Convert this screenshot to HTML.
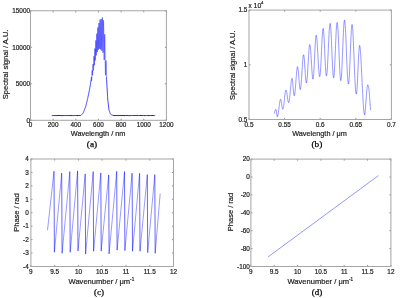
<!DOCTYPE html>
<html><head><meta charset="utf-8"><title>Figure</title>
<style>html,body{margin:0;padding:0;background:#fff;width:409px;height:298px;overflow:hidden}svg{display:block}</style>
</head><body>
<svg width="409" height="298" viewBox="0 0 409 298" style="filter:blur(0.3px)">
<style>
.ax{fill:none;stroke:#a6a6a6;stroke-width:1}
.tk{stroke:#888;stroke-width:0.9}
.t{font-family:"Liberation Sans",Arial,sans-serif;font-size:6.4px;fill:#222;stroke:#222;stroke-width:0.2}
.l{font-family:"Liberation Sans",Arial,sans-serif;font-size:7.3px;fill:#222;stroke:#222;stroke-width:0.2}
.yl{font-size:7.5px}
.xl2{font-size:7.55px}
.s{font-family:"Liberation Serif","Times New Roman",serif;font-size:9.2px;fill:#000;stroke:#000;stroke-width:0.25}
.c{fill:none;stroke:#0000ff;stroke-width:0.5;stroke-linejoin:round}
.sup{font-size:4.6px}
.ca{stroke-width:0.75}
.cm{stroke-width:0.5}
.cb{stroke-width:0.42}
.cr{stroke-width:0.4}
.cd{stroke-width:0.6}
.cdd{stroke-width:0.42}
</style>
<rect width="409" height="298" fill="#fff"/>
<polyline class="c ca" points="52.02,115.30 52.13,115.55 52.24,115.61 52.36,115.97 52.47,115.68 52.59,115.69 52.70,115.64 52.81,115.74 52.93,115.63 53.04,115.71 53.15,115.86 53.27,115.46 53.38,115.46 53.50,115.31 53.61,115.61 53.72,115.69 53.84,115.72 53.95,115.90 54.06,115.44 54.18,115.82 54.29,115.84 54.41,115.66 54.52,115.35 54.63,115.58 54.75,115.81 54.86,115.75 54.97,115.50 55.09,115.65 55.20,115.76 55.32,115.66 55.43,115.48 55.54,115.26 55.66,115.84 55.77,115.73 55.88,115.76 56.00,116.06 56.11,115.78 56.23,115.80 56.34,115.41 56.45,115.64 56.57,115.91 56.68,115.49 56.79,115.68 56.91,115.93 57.02,115.72 57.14,115.72 57.25,115.77 57.36,115.61 57.48,116.02 57.59,115.66 57.70,115.42 57.82,115.45 57.93,115.41 58.05,115.40 58.16,115.34 58.27,115.81 58.39,115.45 58.50,115.95 58.61,115.72 58.73,115.96 58.84,115.42 58.96,115.36 59.07,115.64 59.18,115.28 59.30,115.73 59.41,115.58 59.52,115.58 59.64,115.80 59.75,115.52 59.87,115.25 59.98,115.79 60.09,115.44 60.21,115.63 60.32,115.28 60.43,115.51 60.55,115.48 60.66,115.48 60.78,115.56 60.89,115.86 61.00,115.35 61.12,115.85 61.23,115.56 61.34,115.49 61.46,115.75 61.57,115.57 61.69,115.39 61.80,115.60 61.91,115.76 62.03,116.13 62.14,115.77 62.25,115.71 62.37,115.69 62.48,115.77 62.60,115.53 62.71,115.70 62.82,115.62 62.94,115.47 63.05,115.75 63.16,115.65 63.28,115.20 63.39,115.43 63.51,115.83 63.62,115.61 63.73,115.49 63.85,115.37 63.96,115.57 64.07,115.69 64.19,115.73 64.30,115.47 64.42,115.53 64.53,115.69 64.64,115.62 64.76,115.67 64.87,115.46 64.98,115.72 65.10,115.50 65.21,115.43 65.33,115.50 65.44,115.74 65.55,115.34 65.67,115.71 65.78,115.51 65.89,115.72 66.01,115.91 66.12,115.55 66.24,115.53 66.35,115.60 66.46,115.53 66.58,115.70 66.69,115.72 66.80,115.62 66.92,115.24 67.03,115.43 67.15,115.68 67.26,115.48 67.37,115.67 67.49,115.67 67.60,115.43 67.71,115.68 67.83,115.89 67.94,115.75 68.06,115.56 68.17,115.56 68.28,115.35 68.40,115.71 68.51,115.45 68.62,115.50 68.74,115.61 68.85,115.43 68.97,115.49 69.08,115.74 69.19,115.38 69.31,115.80 69.42,115.57 69.53,115.58 69.65,115.50 69.76,115.71 69.88,115.58 69.99,115.60 70.10,115.39 70.22,115.72 70.33,115.56 70.44,115.62 70.56,115.81 70.67,115.08 70.79,115.59 70.90,115.84 71.01,115.32 71.13,115.77 71.24,115.50 71.35,115.41 71.47,115.69 71.58,115.65 71.70,115.67 71.81,115.59 71.92,115.87 72.04,115.80 72.15,115.60 72.26,115.38 72.38,115.45 72.49,115.25 72.61,115.44 72.72,115.66 72.83,115.59 72.95,115.94 73.06,115.74 73.17,115.75 73.29,115.52 73.40,115.45 73.52,115.67 73.63,115.67 73.74,115.85 73.86,115.59 73.97,115.52 74.08,115.48 74.20,115.71 74.31,115.20 74.43,115.34 74.54,115.58 74.65,115.66 74.77,115.62 74.88,115.53 74.99,115.56 75.11,115.47 75.22,115.42 75.33,115.31 75.45,115.35 75.56,115.58 75.68,115.49 75.79,115.63 75.90,115.67 76.02,115.21 76.13,115.64 76.24,115.19 76.36,115.62 76.47,115.51 76.59,115.36 76.70,115.55 76.81,115.48 76.93,115.60 77.04,115.64 77.15,115.59 77.27,115.67 77.38,115.26 77.50,115.59 77.61,115.24 77.72,116.04 77.84,115.55 77.95,115.45 78.06,115.61 78.18,115.34 78.29,115.42 78.41,115.58 78.52,115.44 78.63,115.00 78.75,115.45 78.86,115.44 78.97,115.56 79.09,115.45 79.20,115.70 79.32,115.49 79.43,115.00 79.54,115.24 79.66,115.31 79.77,115.22 79.88,115.07 80.00,115.29 80.11,115.02 80.23,115.19 80.34,115.38 80.45,115.37 80.57,115.36 80.68,115.35 80.79,115.34 80.91,115.32 81.02,115.21 81.14,115.10 81.25,115.00 81.36,114.89 81.48,114.78 81.59,114.67 81.70,114.56 81.82,114.45 81.93,114.34 82.05,114.23 82.16,114.12 82.27,114.02 82.39,113.91 82.50,113.80 82.61,113.69 82.73,113.58 82.84,113.47 82.96,113.36 83.07,113.15 83.18,112.87 83.30,112.59 83.41,112.31 83.52,112.03 83.64,111.75 83.75,111.47 83.87,111.19 83.98,110.91 84.09,110.63 84.21,110.35 84.32,110.07 84.43,109.79 84.55,109.51 84.66,109.23 84.78,108.95 84.89,108.67 85.00,108.39 85.12,108.11 85.23,107.83 85.34,107.55 85.46,107.27 85.57,106.99 85.69,106.57 85.80,106.11 85.91,105.66 86.03,105.21 86.14,104.75 86.25,104.30 86.37,103.84 86.48,103.39 86.60,102.93 86.71,102.48 86.82,102.02 86.94,101.57 87.05,101.11 87.16,100.66 87.28,100.20 87.39,99.75 87.51,99.29 87.62,98.84 87.73,98.34 87.85,97.78 87.96,97.21 88.07,96.64 88.19,96.08 88.30,95.51 88.42,94.95 88.53,94.38 88.64,93.81 88.76,93.25 88.87,92.68 88.98,92.12 89.10,91.55 89.21,90.98 89.33,90.42 89.44,89.85 89.55,89.29 89.67,88.72 89.78,88.07 89.89,87.39 90.01,86.71 90.12,86.02 90.24,85.34 90.35,84.66 90.46,83.98 90.58,83.30 90.69,82.62 90.80,81.94 90.92,81.26 91.03,80.58 91.15,79.89 91.15,79.87"/>
<polyline class="c ca" points="106.47,77.52 106.47,77.52 106.58,79.43 106.69,81.33 106.81,83.24 106.92,85.15 107.03,87.06 107.15,88.97 107.26,90.87 107.37,92.78 107.49,94.69 107.60,96.60 107.71,98.51 107.83,100.23 107.94,101.19 108.05,102.15 108.17,103.11 108.28,104.07 108.39,105.03 108.51,105.99 108.62,106.95 108.73,107.91 108.85,108.87 108.96,109.83 109.07,110.27 109.19,110.58 109.30,110.89 109.41,111.20 109.53,111.51 109.64,111.81 109.75,112.12 109.87,112.43 109.98,112.74 110.09,113.05 110.21,113.36 110.32,113.67 110.43,113.82 110.55,113.94 110.66,114.05 110.77,114.17 110.89,114.29 111.00,114.41 111.11,114.52 111.23,114.64 111.34,114.76 111.45,114.87 111.57,114.99 111.68,115.03 111.79,115.05 111.91,115.08 112.02,115.10 112.13,115.12 112.25,115.14 112.36,115.17 112.47,115.19 112.59,115.21 112.70,115.23 112.81,115.26 112.93,115.28 113.04,115.30 113.15,115.32 113.26,115.32 113.38,115.05 113.49,115.82 113.60,115.52 113.72,115.39 113.83,115.63 113.94,115.51 114.06,115.62 114.17,115.65 114.28,115.05 114.40,115.44 114.51,115.56 114.62,115.31 114.74,115.60 114.85,115.39 114.96,115.49 115.08,115.26 115.19,115.81 115.30,115.41 115.42,115.53 115.53,115.77 115.64,115.36 115.76,115.71 115.87,115.26 115.98,115.46 116.10,115.43 116.21,115.54 116.32,115.39 116.44,115.90 116.55,115.54 116.66,115.67 116.78,115.51 116.89,115.57 117.00,115.45 117.12,115.71 117.23,115.22 117.34,115.14 117.46,115.60 117.57,115.56 117.68,115.51 117.80,115.33 117.91,115.21 118.02,115.78 118.14,115.67 118.25,115.75 118.36,115.76 118.48,115.86 118.59,115.49 118.70,115.77 118.82,115.29 118.93,115.40 119.04,115.75 119.16,115.75 119.27,115.67 119.38,115.31 119.50,115.72 119.61,115.84 119.72,115.57 119.84,115.49 119.95,115.68 120.06,115.27 120.18,115.52 120.29,115.48 120.40,115.72 120.52,115.57 120.63,115.59 120.74,115.98 120.86,115.51 120.97,115.89 121.08,115.57 121.20,115.83 121.31,115.20 121.42,115.51 121.54,115.41 121.65,115.40 121.76,115.81 121.88,115.98 121.99,115.63 122.10,115.40 122.22,115.55 122.33,115.42 122.44,115.40 122.56,115.84 122.67,115.52 122.78,115.21 122.90,115.67 123.01,115.94 123.12,115.61 123.24,115.65 123.35,115.49 123.46,115.73 123.58,115.55 123.69,115.97 123.80,115.41 123.92,115.28 124.03,115.33 124.14,115.85 124.26,115.51 124.37,116.12 124.48,115.52 124.60,115.58 124.71,115.75 124.82,115.51 124.94,115.55 125.05,115.40 125.16,115.55 125.28,115.53 125.39,115.93 125.50,115.78 125.62,115.66 125.73,115.52 125.84,115.57 125.96,115.30 126.07,115.73 126.18,115.62 126.30,115.53 126.41,115.62 126.52,115.48 126.64,115.68 126.75,115.32 126.86,115.63 126.98,115.37 127.09,115.58 127.20,115.30 127.31,115.83 127.43,115.48 127.54,115.66 127.65,115.53 127.77,115.36 127.88,115.79 127.99,115.82 128.11,115.76 128.22,115.53 128.33,115.92 128.45,115.56 128.56,115.81 128.67,115.79 128.79,115.65 128.90,115.51 129.01,115.69 129.13,115.67 129.24,115.59 129.35,115.63 129.47,116.07 129.58,115.66 129.69,115.56 129.81,115.38 129.92,115.21 130.03,115.46 130.15,115.57 130.26,115.76 130.37,115.57 130.49,115.44 130.60,115.35 130.71,115.74 130.83,115.54 130.94,115.43 131.05,115.24 131.17,115.54 131.28,115.68 131.39,115.71 131.51,115.65 131.62,115.70 131.73,115.43 131.85,115.39 131.96,115.45 132.07,115.37 132.19,115.67 132.30,115.52 132.41,115.66 132.53,115.58 132.64,115.36 132.75,115.59 132.87,115.93 132.98,115.63 133.09,115.72 133.21,115.86 133.32,115.73 133.43,115.41 133.55,115.28 133.66,115.68 133.77,115.40 133.89,115.37 134.00,115.80 134.11,115.60 134.23,115.60 134.34,115.56 134.45,115.88 134.57,115.65 134.68,115.40 134.79,115.36 134.91,115.26 135.02,115.65 135.13,115.25 135.25,115.47 135.36,115.84 135.47,115.45 135.59,115.66 135.70,115.50 135.81,115.61 135.93,115.37 136.04,115.54 136.15,115.64 136.27,115.42 136.38,115.55 136.49,115.67 136.61,115.36 136.72,115.67 136.83,115.71 136.95,115.69 137.06,115.86 137.17,115.69 137.29,115.25 137.40,115.76 137.51,115.59 137.63,115.80 137.74,115.71 137.85,115.32 137.97,115.43 138.08,115.71 138.19,115.59 138.31,115.75 138.42,115.74 138.53,115.76 138.65,115.76 138.76,115.54 138.87,115.49 138.99,115.51 139.10,115.63 139.21,115.85 139.33,115.61 139.44,115.77 139.55,115.44 139.67,115.50 139.78,115.46 139.89,115.66 140.01,115.93 140.12,115.42 140.23,115.38 140.35,115.87 140.46,115.57 140.57,115.38 140.69,115.80 140.80,115.28 140.91,115.66 141.03,115.80 141.14,115.35 141.25,115.55 141.36,115.72 141.48,115.44 141.59,115.96 141.70,115.27 141.82,115.75 141.93,115.55 142.04,115.68 142.16,115.52 142.27,115.44 142.38,115.75 142.50,115.46 142.61,115.66 142.72,115.73 142.84,115.64 142.95,115.79 143.06,115.75 143.18,115.43 143.29,115.63 143.40,115.40 143.52,115.53 143.63,115.79 143.74,115.95 143.86,115.73 143.97,115.56 144.08,115.60 144.20,115.76 144.31,115.42 144.42,115.93 144.54,115.84 144.65,115.58 144.76,115.21 144.88,115.53 144.99,115.79 145.10,115.50 145.22,115.48 145.33,115.44 145.44,115.68 145.56,115.75 145.67,115.59 145.78,115.53 145.90,115.32 146.01,115.23 146.12,115.74 146.24,115.71 146.35,115.62 146.46,115.66 146.58,115.52 146.69,115.52 146.80,115.56 146.92,115.37 147.03,115.64 147.14,115.80 147.26,115.90 147.37,115.80 147.48,115.80 147.60,115.96 147.71,115.49 147.82,115.58 147.94,115.69 148.05,115.78 148.16,115.90 148.28,115.78 148.39,115.28 148.50,116.02 148.62,115.59 148.73,115.48 148.84,115.59 148.96,115.67 149.07,115.47 149.18,115.82 149.30,115.51 149.41,115.35 149.52,115.81 149.64,115.77 149.75,115.59 149.86,115.44 149.98,115.37 150.09,115.49 150.20,115.74 150.32,115.82 150.43,115.57 150.54,115.55 150.66,115.82 150.77,115.61 150.88,115.56 151.00,115.43 151.11,115.80 151.22,115.52 151.34,115.83 151.45,115.70 151.56,115.63 151.68,115.34 151.79,115.01 151.90,115.57 152.02,115.53 152.13,115.44 152.24,115.87 152.36,115.48 152.47,115.85 152.58,115.32 152.70,115.36 152.81,115.53 152.92,115.77 153.04,115.32 153.15,115.58 153.26,115.60 153.38,115.52 153.49,115.94 153.60,115.54 153.72,115.44 153.83,115.56 153.94,115.60 154.06,115.80 154.17,115.51 154.28,115.59 154.40,115.62 154.51,115.73 154.62,115.47 154.74,115.40 154.85,115.55 154.96,115.46 155.07,115.38"/>
<polyline class="c cm" points="91.15,79.87 91.16,79.64 91.17,79.41 91.18,79.19 91.19,78.98 91.20,78.77 91.21,78.57 91.23,78.39 91.24,78.21 91.25,78.04 91.26,77.89 91.27,77.74 91.28,77.62 91.29,77.50 91.30,77.40 91.31,77.32 91.32,77.24 91.34,77.19 91.35,77.15 91.36,77.12 91.37,77.11 91.38,77.05 91.39,77.00 91.40,76.98 91.41,77.01 91.42,77.08 91.43,77.18 91.44,77.32 91.46,77.49 91.47,77.68 91.48,77.90 91.49,78.15 91.50,78.40 91.51,78.67 91.52,78.94 91.53,79.20 91.54,79.46 91.55,79.70 91.57,79.93 91.58,80.13 91.59,80.30 91.60,80.46 91.61,80.59 91.62,80.68 91.63,80.72 91.64,80.72 91.65,80.64 91.66,80.55 91.67,80.44 91.69,80.31 91.70,80.17 91.71,80.02 91.72,79.84 91.73,79.65 91.74,79.45 91.75,79.23 91.76,79.00 91.77,78.76 91.78,78.50 91.80,78.24 91.81,77.96 91.82,77.67 91.83,77.37 91.84,77.07 91.85,76.76 91.86,76.44 91.87,76.12 91.88,75.79 91.89,75.47 91.90,75.14 91.92,74.82 91.93,74.49 91.94,74.17 91.95,73.86 91.96,73.54 91.97,73.24 91.98,72.95 91.99,72.66 92.00,72.39 92.01,72.12 92.03,71.87 92.04,71.64 92.05,71.41 92.06,71.21 92.07,71.02 92.08,70.84 92.09,70.69 92.10,70.55 92.11,70.43 92.12,70.34 92.13,70.28 92.15,70.26 92.16,70.26 92.17,70.28 92.18,70.33 92.19,70.41 92.20,70.51 92.21,70.64 92.22,70.78 92.23,70.95 92.24,71.13 92.26,71.33 92.27,71.54 92.28,71.77 92.29,72.00 92.30,72.24 92.31,72.49 92.32,72.74 92.33,72.99 92.34,73.24 92.35,73.49 92.36,73.73 92.38,73.96 92.39,74.17 92.40,74.38 92.41,74.57 92.42,74.74 92.43,74.89 92.44,75.02 92.45,75.12 92.46,75.20 92.47,75.26 92.48,75.29 92.50,75.29 92.51,75.27 92.52,75.21 92.53,75.15 92.54,75.05 92.55,74.94 92.56,74.81 92.57,74.65 92.58,74.48 92.59,74.28 92.61,74.07 92.62,73.83 92.63,73.58 92.64,73.31 92.65,73.03 92.66,72.73 92.67,72.41 92.68,72.09 92.69,71.75 92.70,71.40 92.71,71.04 92.73,70.68 92.74,70.32 92.75,69.95 92.76,69.57 92.77,69.20 92.78,68.83 92.79,68.47 92.80,68.10 92.81,67.75 92.82,67.40 92.84,67.07 92.85,66.74 92.86,66.43 92.87,66.14 92.88,65.86 92.89,65.59 92.90,65.35 92.91,65.12 92.92,64.92 92.93,64.74 92.94,64.57 92.96,64.44 92.97,64.32 92.98,64.23 92.99,64.15 93.00,64.10 93.01,64.07 93.02,64.06 93.03,64.08 93.04,64.12 93.05,64.19 93.07,64.27 93.08,64.38 93.09,64.51 93.10,64.66 93.11,64.83 93.12,65.01 93.13,65.21 93.14,65.43 93.15,65.66 93.16,65.90 93.17,66.15 93.19,66.41 93.20,66.67 93.21,66.94 93.22,67.21 93.23,67.48 93.24,67.75 93.25,68.02 93.26,68.28 93.27,68.53 93.28,68.78 93.30,69.01 93.31,69.23 93.32,69.44 93.33,69.63 93.34,69.80 93.35,69.96 93.36,70.09 93.37,70.20 93.38,70.29 93.39,70.35 93.40,70.39 93.42,70.41 93.43,70.39 93.44,70.35 93.45,70.29 93.46,70.19 93.47,70.08 93.48,69.95 93.49,69.79 93.50,69.61 93.51,69.40 93.53,69.18 93.54,68.94 93.55,68.67 93.56,68.39 93.57,68.09 93.58,67.77 93.59,67.43 93.60,67.08 93.61,66.71 93.62,66.33 93.63,65.95 93.65,65.55 93.66,65.14 93.67,64.72 93.68,64.30 93.69,63.87 93.70,63.45 93.71,63.02 93.72,62.59 93.73,62.16 93.74,61.74 93.76,61.33 93.77,60.92 93.78,60.52 93.79,60.13 93.80,59.75 93.81,59.38 93.82,59.03 93.83,58.70 93.84,58.38 93.85,58.08 93.86,57.81 93.88,57.55 93.89,57.31 93.90,57.10 93.91,56.91 93.92,56.74 93.93,56.60 93.94,56.48 93.95,56.38 93.96,56.32 93.97,56.31 93.98,56.34 94.00,56.41 94.01,56.53 94.02,56.68 94.03,56.88 94.04,57.12 94.05,57.39 94.06,57.70 94.07,58.03 94.08,58.40 94.09,58.78 94.11,59.19 94.12,59.61 94.13,60.05 94.14,60.49 94.15,60.93 94.16,61.38 94.17,61.82 94.18,62.25 94.19,62.67 94.20,63.07 94.21,63.45 94.23,63.80 94.24,64.12 94.25,64.41 94.26,64.67 94.27,64.88 94.28,65.06 94.29,65.19 94.30,65.27 94.31,65.31 94.32,65.30 94.34,65.24 94.35,65.16 94.36,65.04 94.37,64.90 94.38,64.72 94.39,64.52 94.40,64.28 94.41,64.02 94.42,63.73 94.43,63.41 94.44,63.07 94.46,62.70 94.47,62.30 94.48,61.89 94.49,61.45 94.50,61.00 94.51,60.53 94.52,60.04 94.53,59.54 94.54,59.02 94.55,58.50 94.57,57.97 94.58,57.44 94.59,56.90 94.60,56.36 94.61,55.82 94.62,55.29 94.63,54.76 94.64,54.24 94.65,53.73 94.66,53.24 94.67,52.75 94.69,52.29 94.70,51.84 94.71,51.42 94.72,51.02 94.73,50.64 94.74,50.29 94.75,49.96 94.76,49.67 94.77,49.40 94.78,49.17 94.80,48.97 94.81,48.80 94.82,48.66 94.83,48.57 94.84,48.51 94.85,48.50 94.86,48.52 94.87,48.59 94.88,48.69 94.89,48.83 94.90,49.00 94.92,49.21 94.93,49.46 94.94,49.74 94.95,50.05 94.96,50.38 94.97,50.75 94.98,51.13 94.99,51.54 95.00,51.97 95.01,52.41 95.03,52.87 95.04,53.34 95.05,53.82 95.06,54.30 95.07,54.78 95.08,55.26 95.09,55.74 95.10,56.20 95.11,56.66 95.12,57.11 95.13,57.53 95.15,57.94 95.16,58.33 95.17,58.69 95.18,59.02 95.19,59.32 95.20,59.59 95.21,59.82 95.22,60.02 95.23,60.19 95.24,60.31 95.25,60.39 95.27,60.43 95.28,60.43 95.29,60.38 95.30,60.29 95.31,60.17 95.32,60.02 95.33,59.83 95.34,59.60 95.35,59.34 95.36,59.04 95.38,58.71 95.39,58.35 95.40,57.96 95.41,57.54 95.42,57.09 95.43,56.62 95.44,56.12 95.45,55.60 95.46,55.05 95.47,54.49 95.48,53.91 95.50,53.32 95.51,52.72 95.52,52.10 95.53,51.48 95.54,50.86 95.55,50.23 95.56,49.60 95.57,48.98 95.58,48.36 95.59,47.75 95.61,47.15 95.62,46.56 95.63,45.99 95.64,45.43 95.65,44.90 95.66,44.38 95.67,43.90 95.68,43.43 95.69,43.00 95.70,42.60 95.71,42.22 95.73,41.89 95.74,41.58 95.75,41.31 95.76,41.08 95.77,40.88 95.78,40.73 95.79,40.61 95.80,40.55 95.81,40.53 95.82,40.57 95.84,40.65 95.85,40.77 95.86,40.95 95.87,41.16 95.88,41.42 95.89,41.73 95.90,42.07 95.91,42.44 95.92,42.85 95.93,43.30 95.94,43.77 95.96,44.27 95.97,44.79 95.98,45.34 95.99,45.90 96.00,46.47 96.01,47.05 96.02,47.64 96.03,48.23 96.04,48.82 96.05,49.41 96.07,49.99 96.08,50.55 96.09,51.10 96.10,51.63 96.11,52.14 96.12,52.62 96.13,53.08 96.14,53.50 96.15,53.89 96.16,54.24 96.17,54.55 96.19,54.82 96.20,55.04 96.21,55.23 96.22,55.36 96.23,55.45 96.24,55.48 96.25,55.47 96.26,55.42 96.27,55.34 96.28,55.22 96.30,55.06 96.31,54.86 96.32,54.63 96.33,54.36 96.34,54.05 96.35,53.70 96.36,53.32 96.37,52.91 96.38,52.46 96.39,51.98 96.40,51.48 96.42,50.95 96.43,50.39 96.44,49.81 96.45,49.21 96.46,48.59 96.47,47.95 96.48,47.31 96.49,46.64 96.50,45.98 96.51,45.30 96.53,44.62 96.54,43.94 96.55,43.26 96.56,42.59 96.57,41.93 96.58,41.27 96.59,40.63 96.60,40.00 96.61,39.39 96.62,38.80 96.63,38.23 96.65,37.69 96.66,37.18 96.67,36.69 96.68,36.24 96.69,35.81 96.70,35.43 96.71,35.08 96.72,34.76 96.73,34.49 96.74,34.26 96.75,34.06 96.77,33.91 96.78,33.80 96.79,33.74 96.80,33.73 96.81,33.76 96.82,33.83 96.83,33.94 96.84,34.10 96.85,34.29 96.86,34.53 96.88,34.80 96.89,35.12 96.90,35.46 96.91,35.85 96.92,36.26 96.93,36.71 96.94,37.19 96.95,37.69 96.96,38.22 96.97,38.77 96.98,39.34 97.00,39.92 97.01,40.52 97.02,41.14 97.03,41.76 97.04,42.38 97.05,43.01 97.06,43.64 97.07,44.27 97.08,44.89 97.09,45.50 97.11,46.10 97.12,46.68 97.13,47.25 97.14,47.80 97.15,48.32 97.16,48.82 97.17,49.30 97.18,49.74 97.19,50.15 97.20,50.52 97.21,50.86 97.23,51.16 97.24,51.43 97.25,51.65 97.26,51.82 97.27,51.96 97.28,52.05 97.29,52.09 97.30,52.09 97.31,52.05 97.32,51.96 97.34,51.81 97.35,51.61 97.36,51.36 97.37,51.06 97.38,50.71 97.39,50.31 97.40,49.87 97.41,49.38 97.42,48.84 97.43,48.27 97.44,47.65 97.46,47.00 97.47,46.32 97.48,45.60 97.49,44.86 97.50,44.10 97.51,43.31 97.52,42.51 97.53,41.70 97.54,40.87 97.55,40.04 97.57,39.21 97.58,38.38 97.59,37.56 97.60,36.74 97.61,35.94 97.62,35.16 97.63,34.40 97.64,33.66 97.65,32.95 97.66,32.27 97.67,31.62 97.69,31.01 97.70,30.45 97.71,29.92 97.72,29.44 97.73,29.01 97.74,28.63 97.75,28.30 97.76,28.02 97.77,27.80 97.78,27.64 97.80,27.52 97.81,27.49 97.82,27.49 97.83,27.55 97.84,27.64 97.85,27.77 97.86,27.95 97.87,28.17 97.88,28.42 97.89,28.72 97.90,29.05 97.92,29.42 97.93,29.82 97.94,30.26 97.95,30.72 97.96,31.22 97.97,31.75 97.98,32.30 97.99,32.88 98.00,33.48 98.01,34.10 98.03,34.73 98.04,35.38 98.05,36.05 98.06,36.72 98.07,37.40 98.08,38.09 98.09,38.78 98.10,39.46 98.11,40.15 98.12,40.83 98.13,41.50 98.15,42.16 98.16,42.81 98.17,43.45 98.18,44.06 98.19,44.65 98.20,45.23 98.21,45.77 98.22,46.29 98.23,46.78 98.24,47.24 98.25,47.67 98.27,48.06 98.28,48.42 98.29,48.74 98.30,49.02 98.31,49.26 98.32,49.45 98.33,49.61 98.34,49.72 98.35,49.79 98.36,49.82 98.38,49.80 98.39,49.74 98.40,49.63 98.41,49.47 98.42,49.26 98.43,49.01 98.44,48.70 98.45,48.35 98.46,47.95 98.47,47.51 98.48,47.03 98.50,46.50 98.51,45.94 98.52,45.34 98.53,44.70 98.54,44.03 98.55,43.33 98.56,42.61 98.57,41.86 98.58,41.09 98.59,40.30 98.61,39.49 98.62,38.68 98.63,37.85 98.64,37.02 98.65,36.18 98.66,35.35 98.67,34.51 98.68,33.69 98.69,32.88 98.70,32.07 98.71,31.29 98.73,30.53 98.74,29.78 98.75,29.07 98.76,28.38 98.77,27.73 98.78,27.10 98.79,26.52 98.80,25.97 98.81,25.46 98.82,25.00 98.84,24.58 98.85,24.21 98.86,23.89 98.87,23.61 98.88,23.39 98.89,23.22 98.90,23.10 98.91,23.03 98.92,23.03 98.93,23.08 98.94,23.19 98.96,23.36 98.97,23.58 98.98,23.85 98.99,24.18 99.00,24.56 99.01,24.99 99.02,25.46 99.03,25.98 99.04,26.55 99.05,27.15 99.07,27.80 99.08,28.47 99.09,29.19 99.10,29.93 99.11,30.70 99.12,31.49 99.13,32.30 99.14,33.12 99.15,33.96 99.16,34.81 99.17,35.66 99.19,36.52 99.20,37.37 99.21,38.21 99.22,39.04 99.23,39.87 99.24,40.67 99.25,41.45 99.26,42.21 99.27,42.94 99.28,43.64 99.30,44.30 99.31,44.93 99.32,45.51 99.33,46.06 99.34,46.56 99.35,47.01 99.36,47.41 99.37,47.76 99.38,48.05 99.39,48.30 99.40,48.48 99.42,48.61 99.43,48.68 99.44,48.69 99.45,48.67 99.46,48.60 99.47,48.48 99.48,48.32 99.49,48.11 99.50,47.85 99.51,47.55 99.53,47.21 99.54,46.82 99.55,46.39 99.56,45.92 99.57,45.41 99.58,44.87 99.59,44.29 99.60,43.67 99.61,43.02 99.62,42.35 99.63,41.64 99.65,40.91 99.66,40.16 99.67,39.39 99.68,38.60 99.69,37.79 99.70,36.97 99.71,36.14 99.72,35.31 99.73,34.47 99.74,33.63 99.75,32.79 99.77,31.95 99.78,31.12 99.79,30.30 99.80,29.49 99.81,28.70 99.82,27.93 99.83,27.17 99.84,26.44 99.85,25.74 99.86,25.06 99.88,24.42 99.89,23.81 99.90,23.23 99.91,22.69 99.92,22.19 99.93,21.72 99.94,21.31 99.95,20.93 99.96,20.60 99.97,20.32 99.98,20.08 100.00,19.89 100.01,19.75 100.02,19.66 100.03,19.63 100.04,19.67 100.05,19.77 100.06,19.92 100.07,20.13 100.08,20.40 100.09,20.71 100.11,21.08 100.12,21.50 100.13,21.97 100.14,22.49 100.15,23.05 100.16,23.65 100.17,24.30 100.18,24.99 100.19,25.71 100.20,26.46 100.21,27.25 100.23,28.06 100.24,28.90 100.25,29.76 100.26,30.64 100.27,31.53 100.28,32.44 100.29,33.35 100.30,34.27 100.31,35.19 100.32,36.11 100.34,37.02 100.35,37.92 100.36,38.81 100.37,39.68 100.38,40.53 100.39,41.36 100.40,42.17 100.41,42.94 100.42,43.68 100.43,44.39 100.44,45.06 100.46,45.69 100.47,46.28 100.48,46.82 100.49,47.32 100.50,47.77 100.51,48.16 100.52,48.51 100.53,48.80 100.54,49.03 100.55,49.21 100.57,49.33 100.58,49.40 100.59,49.41 100.60,49.36 100.61,49.26 100.62,49.10 100.63,48.88 100.64,48.61 100.65,48.29 100.66,47.91 100.67,47.47 100.69,46.99 100.70,46.46 100.71,45.88 100.72,45.26 100.73,44.60 100.74,43.89 100.75,43.15 100.76,42.37 100.77,41.57 100.78,40.73 100.80,39.87 100.81,38.99 100.82,38.09 100.83,37.17 100.84,36.25 100.85,35.31 100.86,34.37 100.87,33.43 100.88,32.49 100.89,31.56 100.90,30.64 100.92,29.73 100.93,28.84 100.94,27.97 100.95,27.12 100.96,26.30 100.97,25.51 100.98,24.76 100.99,24.04 101.00,23.36 101.01,22.72 101.03,22.12 101.04,21.58 101.05,21.08 101.06,20.63 101.07,20.23 101.08,19.89 101.09,19.60 101.10,19.37 101.11,19.20 101.12,19.09 101.13,19.03 101.15,19.03 101.16,19.08 101.17,19.18 101.18,19.33 101.19,19.53 101.20,19.79 101.21,20.10 101.22,20.45 101.23,20.86 101.24,21.31 101.25,21.81 101.27,22.36 101.28,22.94 101.29,23.57 101.30,24.23 101.31,24.94 101.32,25.67 101.33,26.44 101.34,27.23 101.35,28.06 101.36,28.90 101.38,29.77 101.39,30.65 101.40,31.55 101.41,32.46 101.42,33.38 101.43,34.31 101.44,35.23 101.45,36.16 101.46,37.08 101.47,37.99 101.48,38.90 101.50,39.79 101.51,40.66 101.52,41.51 101.53,42.34 101.54,43.15 101.55,43.93 101.56,44.67 101.57,45.39 101.58,46.06 101.59,46.70 101.61,47.30 101.62,47.85 101.63,48.36 101.64,48.82 101.65,49.24 101.66,49.60 101.67,49.92 101.68,50.18 101.69,50.39 101.70,50.54 101.71,50.64 101.73,50.68 101.74,50.67 101.75,50.61 101.76,50.49 101.77,50.31 101.78,50.08 101.79,49.80 101.80,49.46 101.81,49.07 101.82,48.63 101.84,48.14 101.85,47.61 101.86,47.02 101.87,46.40 101.88,45.73 101.89,45.02 101.90,44.27 101.91,43.49 101.92,42.68 101.93,41.83 101.94,40.96 101.96,40.07 101.97,39.15 101.98,38.22 101.99,37.27 102.00,36.31 102.01,35.35 102.02,34.38 102.03,33.40 102.04,32.43 102.05,31.46 102.07,30.50 102.08,29.56 102.09,28.63 102.10,27.71 102.11,26.82 102.12,25.95 102.13,25.11 102.14,24.30 102.15,23.52 102.16,22.78 102.17,22.08 102.19,21.42 102.20,20.80 102.21,20.23 102.22,19.70 102.23,19.22 102.24,18.80 102.25,18.42 102.26,18.11 102.27,17.84 102.28,17.64 102.30,17.48 102.31,17.39 102.32,17.36 102.33,17.43 102.34,17.54 102.35,17.71 102.36,17.93 102.37,18.19 102.38,18.51 102.39,18.88 102.40,19.30 102.42,19.76 102.43,20.27 102.44,20.82 102.45,21.42 102.46,22.05 102.47,22.73 102.48,23.44 102.49,24.18 102.50,24.96 102.51,25.77 102.53,26.61 102.54,27.47 102.55,28.35 102.56,29.25 102.57,30.17 102.58,31.11 102.59,32.06 102.60,33.01 102.61,33.97 102.62,34.94 102.63,35.90 102.65,36.86 102.66,37.82 102.67,38.77 102.68,39.70 102.69,40.63 102.70,41.53 102.71,42.42 102.72,43.28 102.73,44.12 102.74,44.93 102.75,45.72 102.77,46.47 102.78,47.18 102.79,47.86 102.80,48.50 102.81,49.10 102.82,49.66 102.83,50.18 102.84,50.65 102.85,51.07 102.86,51.45 102.88,51.77 102.89,52.05 102.90,52.28 102.91,52.46 102.92,52.58 102.93,52.65 102.94,52.69 102.95,52.69 102.96,52.62 102.97,52.50 102.98,52.33 103.00,52.09 103.01,51.80 103.02,51.46 103.03,51.06 103.04,50.62 103.05,50.12 103.06,49.57 103.07,48.98 103.08,48.34 103.09,47.66 103.11,46.94 103.12,46.19 103.13,45.40 103.14,44.57 103.15,43.72 103.16,42.85 103.17,41.95 103.18,41.03 103.19,40.09 103.20,39.14 103.21,38.18 103.23,37.22 103.24,36.25 103.25,35.29 103.26,34.32 103.27,33.37 103.28,32.42 103.29,31.50 103.30,30.58 103.31,29.69 103.32,28.83 103.34,27.99 103.35,27.18 103.36,26.40 103.37,25.66 103.38,24.96 103.39,24.30 103.40,23.69 103.41,23.12 103.42,22.60 103.43,22.13 103.44,21.71 103.46,21.34 103.47,21.04 103.48,20.78 103.49,20.59 103.50,20.45 103.51,20.38 103.52,20.36 103.53,20.47 103.54,20.66 103.55,20.90 103.57,21.18 103.58,21.51 103.59,21.89 103.60,22.31 103.61,22.77 103.62,23.28 103.63,23.84 103.64,24.43 103.65,25.06 103.66,25.73 103.67,26.43 103.69,27.17 103.70,27.94 103.71,28.74 103.72,29.57 103.73,30.42 103.74,31.30 103.75,32.20 103.76,33.11 103.77,34.05 103.78,35.00 103.80,35.96 103.81,36.93 103.82,37.91 103.83,38.89 103.84,39.87 103.85,40.86 103.86,41.84 103.87,42.81 103.88,43.78 103.89,44.74 103.90,45.69 103.92,46.62 103.93,47.53 103.94,48.42 103.95,49.30 103.96,50.15 103.97,50.97 103.98,51.77 103.99,52.53 104.00,53.27 104.01,53.97 104.02,54.64 104.04,55.27 104.05,55.87 104.06,56.43 104.07,56.94 104.08,57.42 104.09,57.85 104.10,58.25 104.11,58.60 104.12,58.90 104.13,59.17 104.15,59.38 104.16,59.56 104.17,59.69 104.18,59.78 104.19,59.86 104.20,59.88 104.21,59.84 104.22,59.75 104.23,59.60 104.24,59.40 104.25,59.14 104.27,58.84 104.28,58.48 104.29,58.07 104.30,57.62 104.31,57.12 104.32,56.58 104.33,56.00 104.34,55.38 104.35,54.73 104.36,54.04 104.38,53.33 104.39,52.59 104.40,51.83 104.41,51.05 104.42,50.25 104.43,49.44 104.44,48.62 104.45,47.79 104.46,46.96 104.47,46.13 104.48,45.31 104.50,44.49 104.51,43.68 104.52,42.89 104.53,42.12 104.54,41.36 104.55,40.63 104.56,39.93 104.57,39.26 104.58,38.62 104.59,38.01 104.61,37.44 104.62,36.92 104.63,36.43 104.64,35.99 104.65,35.60 104.66,35.26 104.67,34.97 104.68,34.73 104.69,34.54 104.70,34.41 104.71,34.33 104.73,34.31 104.74,34.34 104.75,34.44 104.76,34.66 104.77,34.93 104.78,35.22 104.79,35.56 104.80,35.92 104.81,36.31 104.82,36.74 104.84,37.19 104.85,37.68 104.86,38.19 104.87,38.73 104.88,39.29 104.89,39.88 104.90,40.50 104.91,41.14 104.92,41.80 104.93,42.48 104.94,43.18 104.96,43.90 104.97,44.64 104.98,45.40 104.99,46.17 105.00,46.95 105.01,47.74 105.02,48.55 105.03,49.36 105.04,50.19 105.05,51.02 105.07,51.85 105.08,52.69 105.09,53.53 105.10,54.37 105.11,55.21 105.12,56.04 105.13,56.88 105.14,57.71 105.15,58.53 105.16,59.34 105.17,60.15 105.19,60.95 105.20,61.73 105.21,62.50 105.22,63.26 105.23,64.00 105.24,64.73 105.25,65.43 105.26,66.12 105.27,66.79 105.28,67.45 105.30,68.07 105.31,68.68 105.32,69.27 105.33,69.83 105.34,70.36 105.35,70.87 105.36,71.36 105.37,71.82 105.38,72.26 105.39,72.66 105.40,73.04 105.42,73.40 105.43,73.72 105.44,74.02 105.45,74.29 105.46,74.53 105.47,74.74 105.48,74.93 105.49,75.09 105.50,75.16 105.51,75.16 105.52,75.11 105.54,75.03 105.55,74.90 105.56,74.73 105.57,74.53 105.58,74.30 105.59,74.03 105.60,73.73 105.61,73.40 105.62,73.04 105.63,72.66 105.65,72.25 105.66,71.83 105.67,71.38 105.68,70.92 105.69,70.45 105.70,69.97 105.71,69.48 105.72,68.98 105.73,68.47 105.74,67.97 105.75,67.47 105.77,66.97 105.78,66.47 105.79,65.98 105.80,65.50 105.81,65.04 105.82,64.59 105.83,64.15 105.84,63.73 105.85,63.33 105.86,62.95 105.88,62.60 105.89,62.26 105.90,61.96 105.91,61.67 105.92,61.42 105.93,61.20 105.94,61.00 105.95,60.83 105.96,60.70 105.97,60.59 105.98,60.52 106.00,60.48 106.01,60.47 106.02,60.49 106.03,60.54 106.04,60.62 106.05,60.74 106.06,60.88 106.07,61.05 106.08,61.26 106.09,61.30 106.11,61.35 106.12,61.43 106.13,61.55 106.14,61.70 106.15,61.89 106.16,62.12 106.17,62.38 106.18,62.67 106.19,63.00 106.20,63.36 106.21,63.75 106.23,64.18 106.24,64.63 106.25,65.11 106.26,65.62 106.27,66.16 106.28,66.71 106.29,67.29 106.30,67.89 106.31,68.50 106.32,69.13 106.34,69.77 106.35,70.42 106.36,71.08 106.37,71.74 106.38,72.41 106.39,73.08 106.40,73.74 106.41,74.40 106.42,75.05 106.43,75.69 106.44,76.32 106.46,76.93 106.47,77.52"/>
<polyline class="c cb" points="274.30,113.64 274.37,113.31 274.44,112.99 274.51,112.67 274.58,112.35 274.64,112.05 274.71,111.76 274.78,111.48 274.85,111.21 274.92,110.96 274.99,110.72 275.06,110.50 275.13,110.31 275.19,110.13 275.26,109.97 275.33,109.83 275.40,109.72 275.47,109.63 275.54,109.56 275.61,109.52 275.68,109.50 275.75,109.42 275.81,109.34 275.88,109.34 275.95,109.40 276.02,109.53 276.09,109.73 276.16,109.99 276.23,110.31 276.30,110.68 276.37,111.10 276.43,111.56 276.50,112.06 276.57,112.57 276.64,113.10 276.71,113.63 276.78,114.15 276.85,114.66 276.92,115.14 276.98,115.58 277.05,115.97 277.12,116.30 277.19,116.57 277.26,116.76 277.33,116.87 277.40,116.90 277.47,116.79 277.54,116.65 277.60,116.49 277.67,116.29 277.74,116.06 277.81,115.81 277.88,115.52 277.95,115.21 278.02,114.88 278.09,114.51 278.15,114.12 278.22,113.71 278.29,113.27 278.36,112.82 278.43,112.34 278.50,111.84 278.57,111.33 278.64,110.81 278.71,110.27 278.77,109.73 278.84,109.17 278.91,108.61 278.98,108.05 279.05,107.49 279.12,106.92 279.19,106.37 279.26,105.81 279.32,105.27 279.39,104.73 279.46,104.21 279.53,103.71 279.60,103.22 279.67,102.75 279.74,102.30 279.81,101.88 279.88,101.48 279.94,101.10 280.01,100.76 280.08,100.44 280.15,100.16 280.22,99.90 280.29,99.68 280.36,99.50 280.43,99.36 280.50,99.29 280.56,99.26 280.63,99.29 280.70,99.36 280.77,99.48 280.84,99.65 280.91,99.86 280.98,100.11 281.05,100.40 281.11,100.73 281.18,101.09 281.25,101.48 281.32,101.89 281.39,102.33 281.46,102.79 281.53,103.26 281.60,103.73 281.67,104.22 281.73,104.70 281.80,105.18 281.87,105.66 281.94,106.12 282.01,106.56 282.08,106.99 282.15,107.38 282.22,107.75 282.28,108.09 282.35,108.39 282.42,108.65 282.49,108.87 282.56,109.05 282.63,109.18 282.70,109.26 282.77,109.29 282.84,109.27 282.90,109.19 282.97,109.09 283.04,108.95 283.11,108.78 283.18,108.56 283.25,108.30 283.32,108.01 283.39,107.68 283.46,107.31 283.52,106.91 283.59,106.47 283.66,106.00 283.73,105.51 283.80,104.99 283.87,104.44 283.94,103.87 284.01,103.27 284.07,102.67 284.14,102.04 284.21,101.41 284.28,100.76 284.35,100.11 284.42,99.46 284.49,98.80 284.56,98.15 284.63,97.51 284.69,96.88 284.76,96.26 284.83,95.65 284.90,95.06 284.97,94.50 285.04,93.95 285.11,93.44 285.18,92.95 285.24,92.50 285.31,92.07 285.38,91.69 285.45,91.34 285.52,91.03 285.59,90.76 285.66,90.53 285.73,90.35 285.80,90.21 285.86,90.10 285.93,90.03 286.00,90.00 286.07,90.02 286.14,90.08 286.21,90.19 286.28,90.33 286.35,90.52 286.41,90.75 286.48,91.02 286.55,91.32 286.62,91.65 286.69,92.02 286.76,92.41 286.83,92.84 286.90,93.28 286.97,93.75 287.03,94.24 287.10,94.74 287.17,95.25 287.24,95.77 287.31,96.29 287.38,96.81 287.45,97.34 287.52,97.85 287.59,98.36 287.65,98.85 287.72,99.33 287.79,99.78 287.86,100.22 287.93,100.62 288.00,101.00 288.07,101.35 288.14,101.66 288.20,101.93 288.27,102.16 288.34,102.35 288.41,102.50 288.48,102.60 288.55,102.65 288.62,102.66 288.69,102.61 288.76,102.52 288.82,102.38 288.89,102.20 288.96,101.98 289.03,101.72 289.10,101.42 289.17,101.08 289.24,100.70 289.31,100.28 289.37,99.83 289.44,99.34 289.51,98.82 289.58,98.26 289.65,97.68 289.72,97.07 289.79,96.43 289.86,95.77 289.93,95.08 289.99,94.38 290.06,93.66 290.13,92.93 290.20,92.19 290.27,91.44 290.34,90.69 290.41,89.94 290.48,89.18 290.55,88.43 290.61,87.69 290.68,86.96 290.75,86.24 290.82,85.54 290.89,84.86 290.96,84.20 291.03,83.56 291.10,82.95 291.16,82.37 291.23,81.82 291.30,81.30 291.37,80.82 291.44,80.38 291.51,79.98 291.58,79.62 291.65,79.30 291.72,79.02 291.78,78.79 291.85,78.60 291.92,78.46 291.99,78.38 292.06,78.38 292.13,78.47 292.20,78.63 292.27,78.88 292.33,79.20 292.40,79.59 292.47,80.06 292.54,80.59 292.61,81.18 292.68,81.83 292.75,82.52 292.82,83.26 292.89,84.03 292.95,84.84 293.02,85.66 293.09,86.50 293.16,87.35 293.23,88.19 293.30,89.03 293.37,89.85 293.44,90.64 293.50,91.41 293.57,92.13 293.64,92.80 293.71,93.43 293.78,93.99 293.85,94.49 293.92,94.91 293.99,95.26 294.06,95.53 294.12,95.72 294.19,95.82 294.26,95.83 294.33,95.76 294.40,95.64 294.47,95.46 294.54,95.23 294.61,94.94 294.68,94.60 294.74,94.20 294.81,93.75 294.88,93.25 294.95,92.71 295.02,92.11 295.09,91.47 295.16,90.78 295.23,90.06 295.29,89.29 295.36,88.49 295.43,87.66 295.50,86.81 295.57,85.92 295.64,85.02 295.71,84.09 295.78,83.16 295.85,82.21 295.91,81.26 295.98,80.31 296.05,79.36 296.12,78.42 296.19,77.48 296.26,76.57 296.33,75.67 296.40,74.80 296.46,73.95 296.53,73.13 296.60,72.35 296.67,71.61 296.74,70.90 296.81,70.25 296.88,69.64 296.95,69.08 297.02,68.57 297.08,68.12 297.15,67.72 297.22,67.39 297.29,67.11 297.36,66.90 297.43,66.75 297.50,66.68 297.57,66.68 297.64,66.76 297.70,66.90 297.77,67.12 297.84,67.40 297.91,67.75 297.98,68.17 298.05,68.65 298.12,69.18 298.19,69.78 298.25,70.42 298.32,71.11 298.39,71.85 298.46,72.63 298.53,73.44 298.60,74.28 298.67,75.15 298.74,76.03 298.81,76.93 298.87,77.84 298.94,78.75 299.01,79.66 299.08,80.56 299.15,81.44 299.22,82.31 299.29,83.15 299.36,83.96 299.42,84.73 299.49,85.47 299.56,86.15 299.63,86.79 299.70,87.37 299.77,87.89 299.84,88.35 299.91,88.75 299.98,89.07 300.04,89.33 300.11,89.50 300.18,89.61 300.25,89.63 300.32,89.58 300.39,89.45 300.46,89.26 300.53,89.00 300.59,88.68 300.66,88.30 300.73,87.85 300.80,87.34 300.87,86.77 300.94,86.14 301.01,85.46 301.08,84.72 301.15,83.93 301.21,83.09 301.28,82.21 301.35,81.28 301.42,80.32 301.49,79.33 301.56,78.30 301.63,77.25 301.70,76.17 301.77,75.08 301.83,73.98 301.90,72.86 301.97,71.75 302.04,70.63 302.11,69.52 302.18,68.42 302.25,67.33 302.32,66.26 302.38,65.22 302.45,64.20 302.52,63.22 302.59,62.27 302.66,61.37 302.73,60.50 302.80,59.69 302.87,58.93 302.94,58.22 303.00,57.57 303.07,56.98 303.14,56.45 303.21,55.99 303.28,55.60 303.35,55.27 303.42,55.01 303.49,54.83 303.55,54.74 303.62,54.74 303.69,54.82 303.76,55.00 303.83,55.25 303.90,55.59 303.97,56.02 304.04,56.52 304.11,57.09 304.17,57.74 304.24,58.45 304.31,59.23 304.38,60.06 304.45,60.95 304.52,61.89 304.59,62.87 304.66,63.89 304.73,64.93 304.79,66.01 304.86,67.09 304.93,68.20 305.00,69.30 305.07,70.40 305.14,71.50 305.21,72.58 305.28,73.63 305.34,74.66 305.41,75.66 305.48,76.61 305.55,77.52 305.62,78.37 305.69,79.17 305.76,79.90 305.83,80.57 305.90,81.16 305.96,81.68 306.03,82.12 306.10,82.47 306.17,82.74 306.24,82.93 306.31,83.02 306.38,83.02 306.45,82.96 306.51,82.83 306.58,82.64 306.65,82.37 306.72,82.04 306.79,81.63 306.86,81.16 306.93,80.62 307.00,80.01 307.07,79.34 307.13,78.61 307.20,77.82 307.27,76.97 307.34,76.08 307.41,75.13 307.48,74.14 307.55,73.10 307.62,72.03 307.68,70.92 307.75,69.79 307.82,68.63 307.89,67.44 307.96,66.25 308.03,65.04 308.10,63.82 308.17,62.61 308.24,61.39 308.30,60.19 308.37,59.00 308.44,57.83 308.51,56.68 308.58,55.56 308.65,54.47 308.72,53.41 308.79,52.40 308.86,51.44 308.92,50.52 308.99,49.66 309.06,48.85 309.13,48.11 309.20,47.43 309.27,46.81 309.34,46.26 309.41,45.79 309.47,45.39 309.54,45.06 309.61,44.81 309.68,44.63 309.75,44.55 309.82,44.54 309.89,44.62 309.96,44.77 310.03,45.00 310.09,45.30 310.16,45.68 310.23,46.13 310.30,46.66 310.37,47.25 310.44,47.91 310.51,48.63 310.58,49.42 310.64,50.26 310.71,51.15 310.78,52.09 310.85,53.08 310.92,54.10 310.99,55.17 311.06,56.26 311.13,57.38 311.20,58.52 311.26,59.67 311.33,60.84 311.40,62.01 311.47,63.18 311.54,64.35 311.61,65.50 311.68,66.64 311.75,67.76 311.82,68.85 311.88,69.91 311.95,70.93 312.02,71.92 312.09,72.85 312.16,73.74 312.23,74.57 312.30,75.34 312.37,76.04 312.43,76.69 312.50,77.26 312.57,77.76 312.64,78.18 312.71,78.53 312.78,78.80 312.85,78.98 312.92,79.09 312.99,79.11 313.05,79.05 313.12,78.90 313.19,78.66 313.26,78.32 313.33,77.89 313.40,77.36 313.47,76.74 313.54,76.03 313.60,75.24 313.67,74.37 313.74,73.41 313.81,72.38 313.88,71.28 313.95,70.12 314.02,68.89 314.09,67.61 314.16,66.28 314.22,64.91 314.29,63.50 314.36,62.05 314.43,60.59 314.50,59.10 314.57,57.61 314.64,56.11 314.71,54.62 314.77,53.14 314.84,51.67 314.91,50.23 314.98,48.82 315.05,47.45 315.12,46.12 315.19,44.85 315.26,43.63 315.33,42.47 315.39,41.38 315.46,40.37 315.53,39.43 315.60,38.58 315.67,37.81 315.74,37.14 315.81,36.56 315.88,36.07 315.95,35.69 316.01,35.41 316.08,35.23 316.15,35.17 316.22,35.20 316.29,35.31 316.36,35.50 316.43,35.76 316.50,36.09 316.56,36.50 316.63,36.98 316.70,37.54 316.77,38.16 316.84,38.84 316.91,39.60 316.98,40.41 317.05,41.28 317.12,42.20 317.18,43.18 317.25,44.20 317.32,45.27 317.39,46.38 317.46,47.52 317.53,48.70 317.60,49.90 317.67,51.13 317.73,52.38 317.80,53.63 317.87,54.90 317.94,56.17 318.01,57.45 318.08,58.71 318.15,59.97 318.22,61.21 318.29,62.44 318.35,63.63 318.42,64.81 318.49,65.94 318.56,67.04 318.63,68.10 318.70,69.12 318.77,70.08 318.84,70.99 318.91,71.85 318.97,72.64 319.04,73.37 319.11,74.03 319.18,74.63 319.25,75.15 319.32,75.61 319.39,75.98 319.46,76.28 319.52,76.50 319.59,76.64 319.66,76.70 319.73,76.69 319.80,76.59 319.87,76.41 319.94,76.13 320.01,75.76 320.08,75.31 320.14,74.77 320.21,74.14 320.28,73.43 320.35,72.64 320.42,71.77 320.49,70.82 320.56,69.81 320.63,68.72 320.69,67.57 320.76,66.37 320.83,65.11 320.90,63.80 320.97,62.44 321.04,61.05 321.11,59.62 321.18,58.17 321.25,56.69 321.31,55.19 321.38,53.68 321.45,52.17 321.52,50.66 321.59,49.16 321.66,47.66 321.73,46.19 321.80,44.74 321.86,43.32 321.93,41.94 322.00,40.60 322.07,39.31 322.14,38.07 322.21,36.88 322.28,35.76 322.35,34.71 322.42,33.72 322.48,32.81 322.55,31.98 322.62,31.23 322.69,30.57 322.76,29.99 322.83,29.50 322.90,29.11 322.97,28.81 323.04,28.61 323.10,28.50 323.17,28.50 323.24,28.61 323.31,28.83 323.38,29.14 323.45,29.55 323.52,30.06 323.59,30.67 323.65,31.37 323.72,32.17 323.79,33.04 323.86,34.01 323.93,35.05 324.00,36.17 324.07,37.35 324.14,38.61 324.21,39.92 324.27,41.28 324.34,42.70 324.41,44.15 324.48,45.64 324.55,47.16 324.62,48.71 324.69,50.27 324.76,51.83 324.82,53.40 324.89,54.97 324.96,56.52 325.03,58.06 325.10,59.57 325.17,61.05 325.24,62.49 325.31,63.88 325.38,65.22 325.44,66.51 325.51,67.74 325.58,68.89 325.65,69.98 325.72,70.98 325.79,71.90 325.86,72.74 325.93,73.48 325.99,74.13 326.06,74.68 326.13,75.13 326.20,75.48 326.27,75.73 326.34,75.87 326.41,75.90 326.48,75.87 326.55,75.75 326.61,75.55 326.68,75.26 326.75,74.88 326.82,74.43 326.89,73.89 326.96,73.27 327.03,72.58 327.10,71.81 327.17,70.96 327.23,70.04 327.30,69.06 327.37,68.01 327.44,66.89 327.51,65.72 327.58,64.50 327.65,63.22 327.72,61.90 327.78,60.54 327.85,59.14 327.92,57.70 327.99,56.24 328.06,54.76 328.13,53.25 328.20,51.74 328.27,50.21 328.34,48.69 328.40,47.16 328.47,45.65 328.54,44.14 328.61,42.66 328.68,41.19 328.75,39.76 328.82,38.35 328.89,36.99 328.95,35.67 329.02,34.39 329.09,33.17 329.16,32.00 329.23,30.89 329.30,29.85 329.37,28.87 329.44,27.96 329.51,27.13 329.57,26.38 329.64,25.70 329.71,25.11 329.78,24.60 329.85,24.18 329.92,23.85 329.99,23.60 330.06,23.45 330.13,23.40 330.19,23.48 330.26,23.66 330.33,23.95 330.40,24.33 330.47,24.81 330.54,25.39 330.61,26.07 330.68,26.84 330.74,27.69 330.81,28.64 330.88,29.67 330.95,30.78 331.02,31.96 331.09,33.21 331.16,34.53 331.23,35.92 331.30,37.35 331.36,38.84 331.43,40.38 331.50,41.95 331.57,43.56 331.64,45.19 331.71,46.85 331.78,48.52 331.85,50.20 331.91,51.88 331.98,53.55 332.05,55.22 332.12,56.87 332.19,58.49 332.26,60.09 332.33,61.65 332.40,63.17 332.47,64.64 332.53,66.06 332.60,67.41 332.67,68.71 332.74,69.94 332.81,71.09 332.88,72.17 332.95,73.16 333.02,74.07 333.08,74.88 333.15,75.61 333.22,76.24 333.29,76.77 333.36,77.20 333.43,77.53 333.50,77.76 333.57,77.88 333.64,77.90 333.70,77.82 333.77,77.63 333.84,77.34 333.91,76.95 333.98,76.46 334.05,75.86 334.12,75.17 334.19,74.38 334.26,73.50 334.32,72.53 334.39,71.48 334.46,70.34 334.53,69.13 334.60,67.85 334.67,66.50 334.74,65.08 334.81,63.61 334.87,62.08 334.94,60.51 335.01,58.90 335.08,57.26 335.15,55.59 335.22,53.90 335.29,52.19 335.36,50.48 335.43,48.76 335.49,47.05 335.56,45.35 335.63,43.67 335.70,42.01 335.77,40.39 335.84,38.80 335.91,37.25 335.98,35.76 336.04,34.32 336.11,32.94 336.18,31.63 336.25,30.39 336.32,29.22 336.39,28.14 336.46,27.14 336.53,26.23 336.60,25.41 336.66,24.69 336.73,24.06 336.80,23.54 336.87,23.13 336.94,22.81 337.01,22.61 337.08,22.51 337.15,22.51 337.22,22.60 337.28,22.78 337.35,23.07 337.42,23.45 337.49,23.92 337.56,24.49 337.63,25.14 337.70,25.89 337.77,26.72 337.83,27.64 337.90,28.64 337.97,29.71 338.04,30.86 338.11,32.09 338.18,33.37 338.25,34.72 338.32,36.13 338.39,37.59 338.45,39.09 338.52,40.64 338.59,42.23 338.66,43.85 338.73,45.50 338.80,47.17 338.87,48.85 338.94,50.54 339.00,52.24 339.07,53.94 339.14,55.63 339.21,57.30 339.28,58.96 339.35,60.59 339.42,62.19 339.49,63.75 339.56,65.28 339.62,66.75 339.69,68.18 339.76,69.55 339.83,70.85 339.90,72.09 339.97,73.27 340.04,74.36 340.11,75.38 340.17,76.31 340.24,77.17 340.31,77.93 340.38,78.60 340.45,79.18 340.52,79.66 340.59,80.04 340.66,80.33 340.73,80.51 340.79,80.60 340.86,80.59 340.93,80.47 341.00,80.26 341.07,79.94 341.14,79.53 341.21,79.01 341.28,78.40 341.35,77.70 341.41,76.90 341.48,76.01 341.55,75.04 341.62,73.98 341.69,72.84 341.76,71.62 341.83,70.33 341.90,68.97 341.96,67.55 342.03,66.07 342.10,64.53 342.17,62.95 342.24,61.32 342.31,59.65 342.38,57.95 342.45,56.23 342.52,54.48 342.58,52.72 342.65,50.95 342.72,49.17 342.79,47.40 342.86,45.64 342.93,43.90 343.00,42.17 343.07,40.48 343.13,38.81 343.20,37.19 343.27,35.61 343.34,34.07 343.41,32.60 343.48,31.18 343.55,29.84 343.62,28.56 343.69,27.35 343.75,26.23 343.82,25.19 343.89,24.23 343.96,23.36 344.03,22.59 344.10,21.92 344.17,21.34 344.24,20.86 344.31,20.49 344.37,20.22 344.44,20.06 344.51,20.01 344.58,20.11 344.65,20.31 344.72,20.61 344.79,21.00 344.86,21.48 344.92,22.05 344.99,22.72 345.06,23.47 345.13,24.30 345.20,25.22 345.27,26.23 345.34,27.30 345.41,28.46 345.48,29.68 345.54,30.97 345.61,32.32 345.68,33.73 345.75,35.20 345.82,36.72 345.89,38.28 345.96,39.89 346.03,41.53 346.09,43.20 346.16,44.90 346.23,46.62 346.30,48.36 346.37,50.11 346.44,51.86 346.51,53.61 346.58,55.36 346.65,57.10 346.71,58.82 346.78,60.52 346.85,62.20 346.92,63.85 346.99,65.45 347.06,67.02 347.13,68.55 347.20,70.02 347.26,71.44 347.33,72.80 347.40,74.10 347.47,75.33 347.54,76.50 347.61,77.58 347.68,78.60 347.75,79.53 347.82,80.38 347.88,81.14 347.95,81.82 348.02,82.41 348.09,82.91 348.16,83.32 348.23,83.63 348.30,83.85 348.37,83.97 348.44,84.03 348.50,84.01 348.57,83.89 348.64,83.66 348.71,83.33 348.78,82.89 348.85,82.36 348.92,81.72 348.99,80.99 349.05,80.16 349.12,79.24 349.19,78.24 349.26,77.14 349.33,75.97 349.40,74.72 349.47,73.40 349.54,72.01 349.61,70.55 349.67,69.04 349.74,67.48 349.81,65.87 349.88,64.21 349.95,62.53 350.02,60.81 350.09,59.07 350.16,57.31 350.22,55.54 350.29,53.76 350.36,51.99 350.43,50.22 350.50,48.47 350.57,46.73 350.64,45.03 350.71,43.35 350.78,41.71 350.84,40.12 350.91,38.58 350.98,37.09 351.05,35.67 351.12,34.31 351.19,33.02 351.26,31.81 351.33,30.67 351.40,29.62 351.46,28.66 351.53,27.80 351.60,27.02 351.67,26.35 351.74,25.78 351.81,25.31 351.88,24.94 351.95,24.68 352.01,24.53 352.08,24.49 352.15,24.67 352.22,24.97 352.29,25.36 352.36,25.83 352.43,26.40 352.50,27.04 352.57,27.77 352.63,28.58 352.70,29.47 352.77,30.44 352.84,31.48 352.91,32.59 352.98,33.77 353.05,35.02 353.12,36.32 353.18,37.69 353.25,39.11 353.32,40.58 353.39,42.10 353.46,43.66 353.53,45.26 353.60,46.89 353.67,48.56 353.74,50.25 353.80,51.96 353.87,53.70 353.94,55.44 354.01,57.19 354.08,58.95 354.15,60.71 354.22,62.46 354.29,64.20 354.35,65.92 354.42,67.63 354.49,69.32 354.56,70.98 354.63,72.60 354.70,74.20 354.77,75.75 354.84,77.26 354.91,78.72 354.97,80.13 355.04,81.49 355.11,82.80 355.18,84.04 355.25,85.22 355.32,86.33 355.39,87.38 355.46,88.36 355.53,89.26 355.59,90.09 355.66,90.85 355.73,91.52 355.80,92.12 355.87,92.64 355.94,93.08 356.01,93.43 356.08,93.71 356.14,93.90 356.21,94.03 356.28,94.13 356.35,94.13 356.42,94.02 356.49,93.81 356.56,93.50 356.63,93.09 356.70,92.58 356.76,91.97 356.83,91.28 356.90,90.49 356.97,89.62 357.04,88.67 357.11,87.64 357.18,86.54 357.25,85.37 357.31,84.14 357.38,82.85 357.45,81.50 357.52,80.11 357.59,78.68 357.66,77.21 357.73,75.71 357.80,74.19 357.87,72.65 357.93,71.09 358.00,69.54 358.07,67.98 358.14,66.43 358.21,64.90 358.28,63.39 358.35,61.90 358.42,60.44 358.49,59.02 358.55,57.65 358.62,56.32 358.69,55.05 358.76,53.84 358.83,52.69 358.90,51.61 358.97,50.61 359.04,49.68 359.10,48.84 359.17,48.09 359.24,47.42 359.31,46.84 359.38,46.36 359.45,45.98 359.52,45.70 359.59,45.51 359.66,45.43 359.72,45.46 359.79,45.58 359.86,45.92 359.93,46.33 360.00,46.81 360.07,47.34 360.14,47.93 360.21,48.58 360.27,49.28 360.34,50.04 360.41,50.85 360.48,51.71 360.55,52.62 360.62,53.59 360.69,54.59 360.76,55.65 360.83,56.74 360.89,57.88 360.96,59.05 361.03,60.26 361.10,61.51 361.17,62.78 361.24,64.09 361.31,65.42 361.38,66.78 361.44,68.16 361.51,69.56 361.58,70.97 361.65,72.40 361.72,73.85 361.79,75.30 361.86,76.76 361.93,78.22 362.00,79.68 362.06,81.14 362.13,82.60 362.20,84.05 362.27,85.49 362.34,86.92 362.41,88.34 362.48,89.74 362.55,91.12 362.62,92.48 362.68,93.81 362.75,95.12 362.82,96.41 362.89,97.66 362.96,98.88 363.03,100.07 363.10,101.22 363.17,102.34 363.23,103.42 363.30,104.45 363.37,105.45 363.44,106.40 363.51,107.31 363.58,108.17 363.65,108.99 363.72,109.76 363.79,110.48 363.85,111.15 363.92,111.77 363.99,112.34 364.06,112.86 364.13,113.33 364.20,113.75 364.27,114.12 364.34,114.44 364.40,114.71 364.47,114.93 364.54,114.99 364.61,114.91 364.68,114.75 364.75,114.52 364.82,114.22 364.89,113.85 364.96,113.41 365.02,112.90 365.09,112.34 365.16,111.72 365.23,111.04 365.30,110.32 365.37,109.55 365.44,108.74 365.51,107.89 365.58,107.00 365.64,106.09 365.71,105.16 365.78,104.20 365.85,103.23 365.92,102.24 365.99,101.25 366.06,100.26 366.13,99.27 366.19,98.28 366.26,97.31 366.33,96.34 366.40,95.40 366.47,94.47 366.54,93.58 366.61,92.71 366.68,91.87 366.75,91.06 366.81,90.30 366.88,89.58 366.95,88.90 367.02,88.26 367.09,87.68 367.16,87.14 367.23,86.66 367.30,86.23 367.36,85.85 367.43,85.53 367.50,85.27 367.57,85.06 367.64,84.91 367.71,84.82 367.78,84.79 367.85,84.81 367.92,84.89 367.98,85.02 368.05,85.22 368.12,85.46 368.19,85.76 368.26,85.82 368.33,85.91 368.40,86.05 368.47,86.26 368.53,86.52 368.60,86.84 368.67,87.22 368.74,87.66 368.81,88.15 368.88,88.69 368.95,89.28 369.02,89.92 369.09,90.61 369.15,91.34 369.22,92.10 369.29,92.90 369.36,93.74 369.43,94.60 369.50,95.49 369.57,96.40 369.64,97.33 369.71,98.28 369.77,99.23 369.84,100.20 369.91,101.16 369.98,102.13 370.05,103.08 370.12,104.03 370.19,104.97 370.26,105.89 370.32,106.79 370.39,107.67 370.46,108.52 370.53,109.33 370.60,110.12"/>
<line x1="47.50" y1="230.20" x2="54.00" y2="171.20" class="c cr"/>
<line x1="54.00" y1="171.20" x2="54.40" y2="252.20" class="c cd"/>
<line x1="54.40" y1="252.20" x2="61.70" y2="173.10" class="c cr"/>
<line x1="61.70" y1="173.10" x2="62.10" y2="253.30" class="c cd"/>
<line x1="62.10" y1="253.30" x2="69.80" y2="171.60" class="c cr"/>
<line x1="69.80" y1="171.60" x2="70.20" y2="252.30" class="c cd"/>
<line x1="70.20" y1="252.30" x2="77.60" y2="170.90" class="c cr"/>
<line x1="77.60" y1="170.90" x2="78.00" y2="250.90" class="c cd"/>
<line x1="78.00" y1="250.90" x2="85.20" y2="173.90" class="c cr"/>
<line x1="85.20" y1="173.90" x2="85.60" y2="254.10" class="c cd"/>
<line x1="85.60" y1="254.10" x2="93.20" y2="171.60" class="c cr"/>
<line x1="93.20" y1="171.60" x2="93.60" y2="251.30" class="c cd"/>
<line x1="93.60" y1="251.30" x2="100.80" y2="172.90" class="c cr"/>
<line x1="100.80" y1="172.90" x2="101.20" y2="251.10" class="c cd"/>
<line x1="101.20" y1="251.10" x2="108.70" y2="174.90" class="c cr"/>
<line x1="108.70" y1="174.90" x2="109.10" y2="253.90" class="c cd"/>
<line x1="109.10" y1="253.90" x2="116.70" y2="171.30" class="c cr"/>
<line x1="116.70" y1="171.30" x2="117.10" y2="250.10" class="c cd"/>
<line x1="117.10" y1="250.10" x2="124.50" y2="171.60" class="c cr"/>
<line x1="124.50" y1="171.60" x2="124.90" y2="250.60" class="c cd"/>
<line x1="124.90" y1="250.60" x2="132.10" y2="173.20" class="c cr"/>
<line x1="132.10" y1="173.20" x2="132.50" y2="251.30" class="c cd"/>
<line x1="132.50" y1="251.30" x2="139.60" y2="173.30" class="c cr"/>
<line x1="139.60" y1="173.30" x2="140.00" y2="251.30" class="c cd"/>
<line x1="140.00" y1="251.30" x2="147.30" y2="174.60" class="c cr"/>
<line x1="147.30" y1="174.60" x2="147.70" y2="252.60" class="c cd"/>
<line x1="147.70" y1="252.60" x2="154.80" y2="174.60" class="c cr"/>
<line x1="154.80" y1="174.60" x2="155.20" y2="253.30" class="c cd"/>
<line x1="155.20" y1="253.30" x2="160.20" y2="193.50" class="c cr"/>
<polyline class="c cdd" points="268.10,256.90 378.40,175.60"/>
<line x1="30.50" y1="120.30" x2="30.50" y2="118.70" class="tk"/>
<line x1="30.50" y1="10.75" x2="30.50" y2="12.35" class="tk"/>
<text x="30.50" y="127.30" class="t" text-anchor="middle">0</text>
<line x1="53.15" y1="120.30" x2="53.15" y2="118.70" class="tk"/>
<line x1="53.15" y1="10.75" x2="53.15" y2="12.35" class="tk"/>
<text x="53.15" y="127.30" class="t" text-anchor="middle">200</text>
<line x1="75.80" y1="120.30" x2="75.80" y2="118.70" class="tk"/>
<line x1="75.80" y1="10.75" x2="75.80" y2="12.35" class="tk"/>
<text x="75.80" y="127.30" class="t" text-anchor="middle">400</text>
<line x1="98.45" y1="120.30" x2="98.45" y2="118.70" class="tk"/>
<line x1="98.45" y1="10.75" x2="98.45" y2="12.35" class="tk"/>
<text x="98.45" y="127.30" class="t" text-anchor="middle">600</text>
<line x1="121.10" y1="120.30" x2="121.10" y2="118.70" class="tk"/>
<line x1="121.10" y1="10.75" x2="121.10" y2="12.35" class="tk"/>
<text x="121.10" y="127.30" class="t" text-anchor="middle">800</text>
<line x1="143.75" y1="120.30" x2="143.75" y2="118.70" class="tk"/>
<line x1="143.75" y1="10.75" x2="143.75" y2="12.35" class="tk"/>
<text x="143.75" y="127.30" class="t" text-anchor="middle">1000</text>
<line x1="166.40" y1="120.30" x2="166.40" y2="118.70" class="tk"/>
<line x1="166.40" y1="10.75" x2="166.40" y2="12.35" class="tk"/>
<text x="166.40" y="127.30" class="t" text-anchor="middle">1200</text>
<line x1="30.50" y1="120.30" x2="32.10" y2="120.30" class="tk"/>
<line x1="166.40" y1="120.30" x2="164.80" y2="120.30" class="tk"/>
<text x="30.00" y="122.60" class="t" text-anchor="end">0</text>
<line x1="30.50" y1="83.78" x2="32.10" y2="83.78" class="tk"/>
<line x1="166.40" y1="83.78" x2="164.80" y2="83.78" class="tk"/>
<text x="30.00" y="86.08" class="t" text-anchor="end">5000</text>
<line x1="30.50" y1="47.27" x2="32.10" y2="47.27" class="tk"/>
<line x1="166.40" y1="47.27" x2="164.80" y2="47.27" class="tk"/>
<text x="30.00" y="49.57" class="t" text-anchor="end">10000</text>
<line x1="30.50" y1="10.75" x2="32.10" y2="10.75" class="tk"/>
<line x1="166.40" y1="10.75" x2="164.80" y2="10.75" class="tk"/>
<text x="30.00" y="13.05" class="t" text-anchor="end">15000</text>
<rect x="30.50" y="10.75" width="135.90" height="109.55" class="ax"/>
<text x="98.10" y="135.70" class="l" text-anchor="middle">Wavelength / nm</text>
<text transform="translate(7.90,64.40) rotate(-90)" class="l yl" text-anchor="middle">Spectral signal / A.U.</text>
<text x="92.00" y="146.90" class="s" text-anchor="middle" textLength="10.3" lengthAdjust="spacingAndGlyphs">(a)</text>
<line x1="249.00" y1="119.50" x2="249.00" y2="117.90" class="tk"/>
<line x1="249.00" y1="10.10" x2="249.00" y2="11.70" class="tk"/>
<text x="249.00" y="127.10" class="t" text-anchor="middle">0.5</text>
<line x1="284.60" y1="119.50" x2="284.60" y2="117.90" class="tk"/>
<line x1="284.60" y1="10.10" x2="284.60" y2="11.70" class="tk"/>
<text x="284.60" y="127.10" class="t" text-anchor="middle">0.55</text>
<line x1="320.20" y1="119.50" x2="320.20" y2="117.90" class="tk"/>
<line x1="320.20" y1="10.10" x2="320.20" y2="11.70" class="tk"/>
<text x="320.20" y="127.10" class="t" text-anchor="middle">0.6</text>
<line x1="355.80" y1="119.50" x2="355.80" y2="117.90" class="tk"/>
<line x1="355.80" y1="10.10" x2="355.80" y2="11.70" class="tk"/>
<text x="355.80" y="127.10" class="t" text-anchor="middle">0.65</text>
<line x1="391.40" y1="119.50" x2="391.40" y2="117.90" class="tk"/>
<line x1="391.40" y1="10.10" x2="391.40" y2="11.70" class="tk"/>
<text x="391.40" y="127.10" class="t" text-anchor="middle">0.7</text>
<line x1="249.00" y1="119.50" x2="250.60" y2="119.50" class="tk"/>
<line x1="391.40" y1="119.50" x2="389.80" y2="119.50" class="tk"/>
<text x="247.40" y="121.80" class="t" text-anchor="end">0.5</text>
<line x1="249.00" y1="64.80" x2="250.60" y2="64.80" class="tk"/>
<line x1="391.40" y1="64.80" x2="389.80" y2="64.80" class="tk"/>
<text x="247.40" y="67.10" class="t" text-anchor="end">1</text>
<line x1="249.00" y1="10.10" x2="250.60" y2="10.10" class="tk"/>
<line x1="391.40" y1="10.10" x2="389.80" y2="10.10" class="tk"/>
<text x="247.40" y="12.40" class="t" text-anchor="end">1.5</text>
<rect x="249.00" y="10.10" width="142.40" height="109.40" class="ax"/>
<text x="319.50" y="135.70" class="l" text-anchor="middle">Wavelength / μm</text>
<text transform="translate(234.60,65.20) rotate(-90)" class="l yl" text-anchor="middle">Spectral signal / A.U.</text>
<text x="316.90" y="147.30" class="s" text-anchor="middle" textLength="10.8" lengthAdjust="spacingAndGlyphs">(b)</text>
<text x="248.6" y="7.8" class="t">x <tspan style="font-size:6.9px">10</tspan><tspan class="sup" style="font-size:3.8px" dy="-3.6">4</tspan></text>
<line x1="30.90" y1="266.50" x2="30.90" y2="264.90" class="tk"/>
<line x1="30.90" y1="159.00" x2="30.90" y2="160.60" class="tk"/>
<text x="30.90" y="273.50" class="t" text-anchor="middle">9</text>
<line x1="54.67" y1="266.50" x2="54.67" y2="264.90" class="tk"/>
<line x1="54.67" y1="159.00" x2="54.67" y2="160.60" class="tk"/>
<text x="54.67" y="273.50" class="t" text-anchor="middle">9.5</text>
<line x1="78.43" y1="266.50" x2="78.43" y2="264.90" class="tk"/>
<line x1="78.43" y1="159.00" x2="78.43" y2="160.60" class="tk"/>
<text x="78.43" y="273.50" class="t" text-anchor="middle">10</text>
<line x1="102.20" y1="266.50" x2="102.20" y2="264.90" class="tk"/>
<line x1="102.20" y1="159.00" x2="102.20" y2="160.60" class="tk"/>
<text x="102.20" y="273.50" class="t" text-anchor="middle">10.5</text>
<line x1="125.97" y1="266.50" x2="125.97" y2="264.90" class="tk"/>
<line x1="125.97" y1="159.00" x2="125.97" y2="160.60" class="tk"/>
<text x="125.97" y="273.50" class="t" text-anchor="middle">11</text>
<line x1="149.73" y1="266.50" x2="149.73" y2="264.90" class="tk"/>
<line x1="149.73" y1="159.00" x2="149.73" y2="160.60" class="tk"/>
<text x="149.73" y="273.50" class="t" text-anchor="middle">11.5</text>
<line x1="173.50" y1="266.50" x2="173.50" y2="264.90" class="tk"/>
<line x1="173.50" y1="159.00" x2="173.50" y2="160.60" class="tk"/>
<text x="173.50" y="273.50" class="t" text-anchor="middle">12</text>
<line x1="30.90" y1="266.50" x2="32.50" y2="266.50" class="tk"/>
<line x1="173.50" y1="266.50" x2="171.90" y2="266.50" class="tk"/>
<text x="28.80" y="268.80" class="t" text-anchor="end">-4</text>
<line x1="30.90" y1="253.06" x2="32.50" y2="253.06" class="tk"/>
<line x1="173.50" y1="253.06" x2="171.90" y2="253.06" class="tk"/>
<text x="28.80" y="255.36" class="t" text-anchor="end">-3</text>
<line x1="30.90" y1="239.62" x2="32.50" y2="239.62" class="tk"/>
<line x1="173.50" y1="239.62" x2="171.90" y2="239.62" class="tk"/>
<text x="28.80" y="241.93" class="t" text-anchor="end">-2</text>
<line x1="30.90" y1="226.19" x2="32.50" y2="226.19" class="tk"/>
<line x1="173.50" y1="226.19" x2="171.90" y2="226.19" class="tk"/>
<text x="28.80" y="228.49" class="t" text-anchor="end">-1</text>
<line x1="30.90" y1="212.75" x2="32.50" y2="212.75" class="tk"/>
<line x1="173.50" y1="212.75" x2="171.90" y2="212.75" class="tk"/>
<text x="28.80" y="215.05" class="t" text-anchor="end">0</text>
<line x1="30.90" y1="199.31" x2="32.50" y2="199.31" class="tk"/>
<line x1="173.50" y1="199.31" x2="171.90" y2="199.31" class="tk"/>
<text x="28.80" y="201.61" class="t" text-anchor="end">1</text>
<line x1="30.90" y1="185.88" x2="32.50" y2="185.88" class="tk"/>
<line x1="173.50" y1="185.88" x2="171.90" y2="185.88" class="tk"/>
<text x="28.80" y="188.18" class="t" text-anchor="end">2</text>
<line x1="30.90" y1="172.44" x2="32.50" y2="172.44" class="tk"/>
<line x1="173.50" y1="172.44" x2="171.90" y2="172.44" class="tk"/>
<text x="28.80" y="174.74" class="t" text-anchor="end">3</text>
<line x1="30.90" y1="159.00" x2="32.50" y2="159.00" class="tk"/>
<line x1="173.50" y1="159.00" x2="171.90" y2="159.00" class="tk"/>
<text x="28.80" y="161.30" class="t" text-anchor="end">4</text>
<rect x="30.90" y="159.00" width="142.60" height="107.50" class="ax"/>
<text x="101.40" y="284.40" class="l xl2" text-anchor="middle">Wavenumber / μm<tspan class="sup" dy="-3">-1</tspan></text>
<text transform="translate(19.40,212.60) rotate(-90)" class="l yl" text-anchor="middle">Phase / rad</text>
<text x="98.90" y="295.30" class="s" text-anchor="middle" textLength="10.0" lengthAdjust="spacingAndGlyphs">(c)</text>
<line x1="250.90" y1="266.50" x2="250.90" y2="264.90" class="tk"/>
<line x1="250.90" y1="159.10" x2="250.90" y2="160.70" class="tk"/>
<text x="250.90" y="274.00" class="t" text-anchor="middle">9</text>
<line x1="274.23" y1="266.50" x2="274.23" y2="264.90" class="tk"/>
<line x1="274.23" y1="159.10" x2="274.23" y2="160.70" class="tk"/>
<text x="274.23" y="274.00" class="t" text-anchor="middle">9.5</text>
<line x1="297.57" y1="266.50" x2="297.57" y2="264.90" class="tk"/>
<line x1="297.57" y1="159.10" x2="297.57" y2="160.70" class="tk"/>
<text x="297.57" y="274.00" class="t" text-anchor="middle">10</text>
<line x1="320.90" y1="266.50" x2="320.90" y2="264.90" class="tk"/>
<line x1="320.90" y1="159.10" x2="320.90" y2="160.70" class="tk"/>
<text x="320.90" y="274.00" class="t" text-anchor="middle">10.5</text>
<line x1="344.23" y1="266.50" x2="344.23" y2="264.90" class="tk"/>
<line x1="344.23" y1="159.10" x2="344.23" y2="160.70" class="tk"/>
<text x="344.23" y="274.00" class="t" text-anchor="middle">11</text>
<line x1="367.57" y1="266.50" x2="367.57" y2="264.90" class="tk"/>
<line x1="367.57" y1="159.10" x2="367.57" y2="160.70" class="tk"/>
<text x="367.57" y="274.00" class="t" text-anchor="middle">11.5</text>
<line x1="390.90" y1="266.50" x2="390.90" y2="264.90" class="tk"/>
<line x1="390.90" y1="159.10" x2="390.90" y2="160.70" class="tk"/>
<text x="390.90" y="274.00" class="t" text-anchor="middle">12</text>
<line x1="250.90" y1="266.50" x2="252.50" y2="266.50" class="tk"/>
<line x1="390.90" y1="266.50" x2="389.30" y2="266.50" class="tk"/>
<text x="249.90" y="268.80" class="t" text-anchor="end">-100</text>
<line x1="250.90" y1="248.60" x2="252.50" y2="248.60" class="tk"/>
<line x1="390.90" y1="248.60" x2="389.30" y2="248.60" class="tk"/>
<text x="249.90" y="250.90" class="t" text-anchor="end">-80</text>
<line x1="250.90" y1="230.70" x2="252.50" y2="230.70" class="tk"/>
<line x1="390.90" y1="230.70" x2="389.30" y2="230.70" class="tk"/>
<text x="249.90" y="233.00" class="t" text-anchor="end">-60</text>
<line x1="250.90" y1="212.80" x2="252.50" y2="212.80" class="tk"/>
<line x1="390.90" y1="212.80" x2="389.30" y2="212.80" class="tk"/>
<text x="249.90" y="215.10" class="t" text-anchor="end">-40</text>
<line x1="250.90" y1="194.90" x2="252.50" y2="194.90" class="tk"/>
<line x1="390.90" y1="194.90" x2="389.30" y2="194.90" class="tk"/>
<text x="249.90" y="197.20" class="t" text-anchor="end">-20</text>
<line x1="250.90" y1="177.00" x2="252.50" y2="177.00" class="tk"/>
<line x1="390.90" y1="177.00" x2="389.30" y2="177.00" class="tk"/>
<text x="249.90" y="179.30" class="t" text-anchor="end">0</text>
<line x1="250.90" y1="159.10" x2="252.50" y2="159.10" class="tk"/>
<line x1="390.90" y1="159.10" x2="389.30" y2="159.10" class="tk"/>
<text x="249.90" y="161.40" class="t" text-anchor="end">20</text>
<rect x="250.90" y="159.10" width="140.00" height="107.40" class="ax"/>
<text x="320.35" y="284.30" class="l xl2" text-anchor="middle">Wavenumber / μm<tspan class="sup" dy="-3">-1</tspan></text>
<text transform="translate(232.50,212.00) rotate(-90)" class="l yl" text-anchor="middle">Phase / rad</text>
<text x="316.90" y="295.20" class="s" text-anchor="middle" textLength="10.5" lengthAdjust="spacingAndGlyphs">(d)</text>
</svg>
</body></html>
